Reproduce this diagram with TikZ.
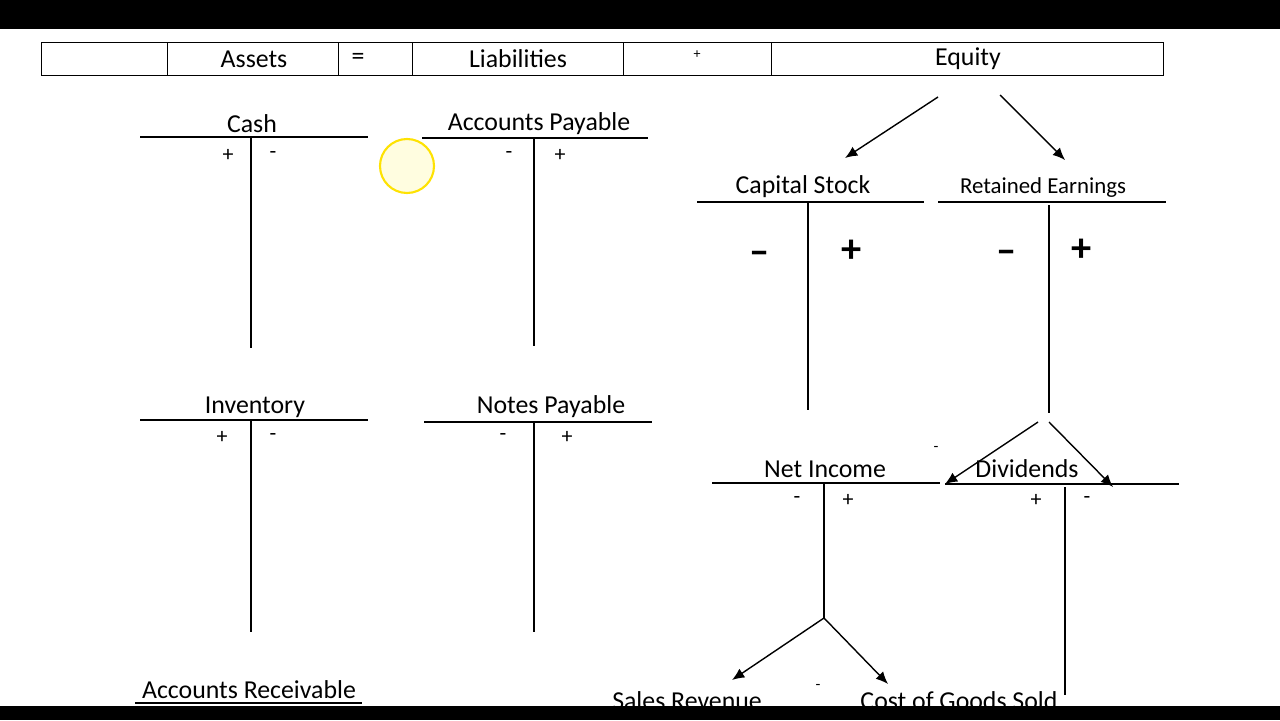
\documentclass[tikz,border=0pt]{standalone}
\usepackage{fontspec}
\setmainfont{Carlito}
\usetikzlibrary{calc,arrows.meta}

\begin{document}
\begin{tikzpicture}[x=0.02cm,y=-0.02cm,>={Latex[length=7pt,width=6pt]},
  lbl/.style={font=\fontsize{14.7}{16}\selectfont,inner sep=0pt},
  sgn/.style={font=\fontsize{12.5}{14}\selectfont,inner sep=0pt},
  big/.style={font=\fontsize{23}{25}\selectfont\bfseries,inner sep=0pt},
  tacc/.style={line width=0.7pt}]
\useasboundingbox (0,0) rectangle (1280,720);
\fill[white] (0,0) rectangle (1280,720);
\fill[black] (0,0) rectangle (1280,29);
\fill[black] (0,706) rectangle (1280,720);
% equation row
\draw[line width=0.5pt] (41,42) rectangle (1163,75);
\foreach \x in {167,338,412,623,771} \draw[line width=0.5pt] (\x,42)--(\x,75);
\node[lbl] (assets) at (254,59) {Assets};
\node[lbl] (eq) at (358,59) {=};
\node[sgn,font=\fontsize{8}{9}\selectfont] (plus) at (697,55) {+};
\node[lbl] (liab) at (518,59) {Liabilities};
\node[lbl] (equity) at (968,59) {Equity};
% Cash
\node[lbl] (cash) at (252,124) {Cash};
\draw[tacc] (140,137)--(368,137) (251,137)--(251,348);
\node[sgn] at (228,155) {+}; \node[sgn] at (273,155) {-};
\draw[yellow!85!orange,line width=1.2pt,fill=yellow!12] (407,166) circle (27);
% Accounts Payable
\node[lbl] (ap) at (539,124) {Accounts Payable};
\draw[tacc] (422,138)--(648,138) (534,138)--(534,346);
\node[sgn] at (509,155) {-}; \node[sgn] at (560,155) {+};
% Inventory
\node[lbl] (inv) at (255,407) {Inventory};
\draw[tacc] (140,420)--(368,420) (251,420)--(251,632);
\node[sgn] at (222,437) {+}; \node[sgn] at (273,437) {-};
% Notes Payable
\node[lbl] (np) at (551,407) {Notes Payable};
\draw[tacc] (424,422)--(652,422) (534,422)--(534,632);
\node[sgn] at (503,437) {-}; \node[sgn] at (567,437) {+};
% Accounts Receivable
\node[lbl] (ar) at (249,690) {Accounts Receivable};
\draw[tacc] (135,703)--(362,703);
% Capital Stock
\coordinate (e1) at (938,97); \coordinate (e2) at (1000,95);
\coordinate (cs1) at (845,158); \coordinate (re1) at (1065,160);
\draw[->,line width=0.8pt] (e1)--(cs1);
\draw[->,line width=0.8pt] (e2)--(re1);
\node[lbl] (cs) at (803,187) {Capital Stock};
\draw[tacc] (697,202)--(924,202) (808,202)--(808,410);
\node[big] at (760,258) {--}; \node[big] at (852,251) {+};
% Retained Earnings
\node[lbl,font=\fontsize{13}{14}\selectfont] (re) at (1043,188) {Retained Earnings};
\draw[tacc] (938,202)--(1166,202) (1049,205)--(1049,413);
\node[big] at (1007,257) {--}; \node[big] at (1082,250) {+};
\coordinate (r1) at (1038,422); \coordinate (r2) at (1049,422);
\coordinate (ni1) at (945,484); \coordinate (dv1) at (1113,487);
\draw[->,line width=0.8pt] (r1)--(ni1);
\draw[->,line width=0.8pt] (r2)--(dv1);
\node[sgn,font=\fontsize{9}{10}\selectfont] at (936,449) {-};
% Net Income
\node[lbl] (ni) at (825,469) {Net Income};
\draw[tacc] (712,483)--(940,483) (824,483)--(824,618);
\node[sgn] at (797,500) {-}; \node[sgn] at (848,500) {+};
% Dividends
\node[lbl] (dv) at (1027,469) {Dividends};
\draw[line width=1.1pt] (945,484)--(1179,484);
\draw[tacc] (1065,487)--(1065,695);
\node[sgn] at (1036,500) {+}; \node[sgn] at (1087,500) {-};
% revenue and expense
\coordinate (n1) at (824,618);
\coordinate (sr1) at (732,680); \coordinate (cg1) at (888,684);
\draw[->,line width=0.8pt] (n1)--(sr1);
\draw[->,line width=0.8pt] (n1)--(cg1);
\node[sgn,font=\fontsize{9}{10}\selectfont] at (818,687) {-};
\begin{scope}
\clip (0,29) rectangle (1280,706);
\node[lbl] (sr) at (687,701) {Sales Revenue};
\node[lbl] (cogs) at (959,701) {Cost of Goods Sold};
\end{scope}
\end{tikzpicture}
\end{document}
